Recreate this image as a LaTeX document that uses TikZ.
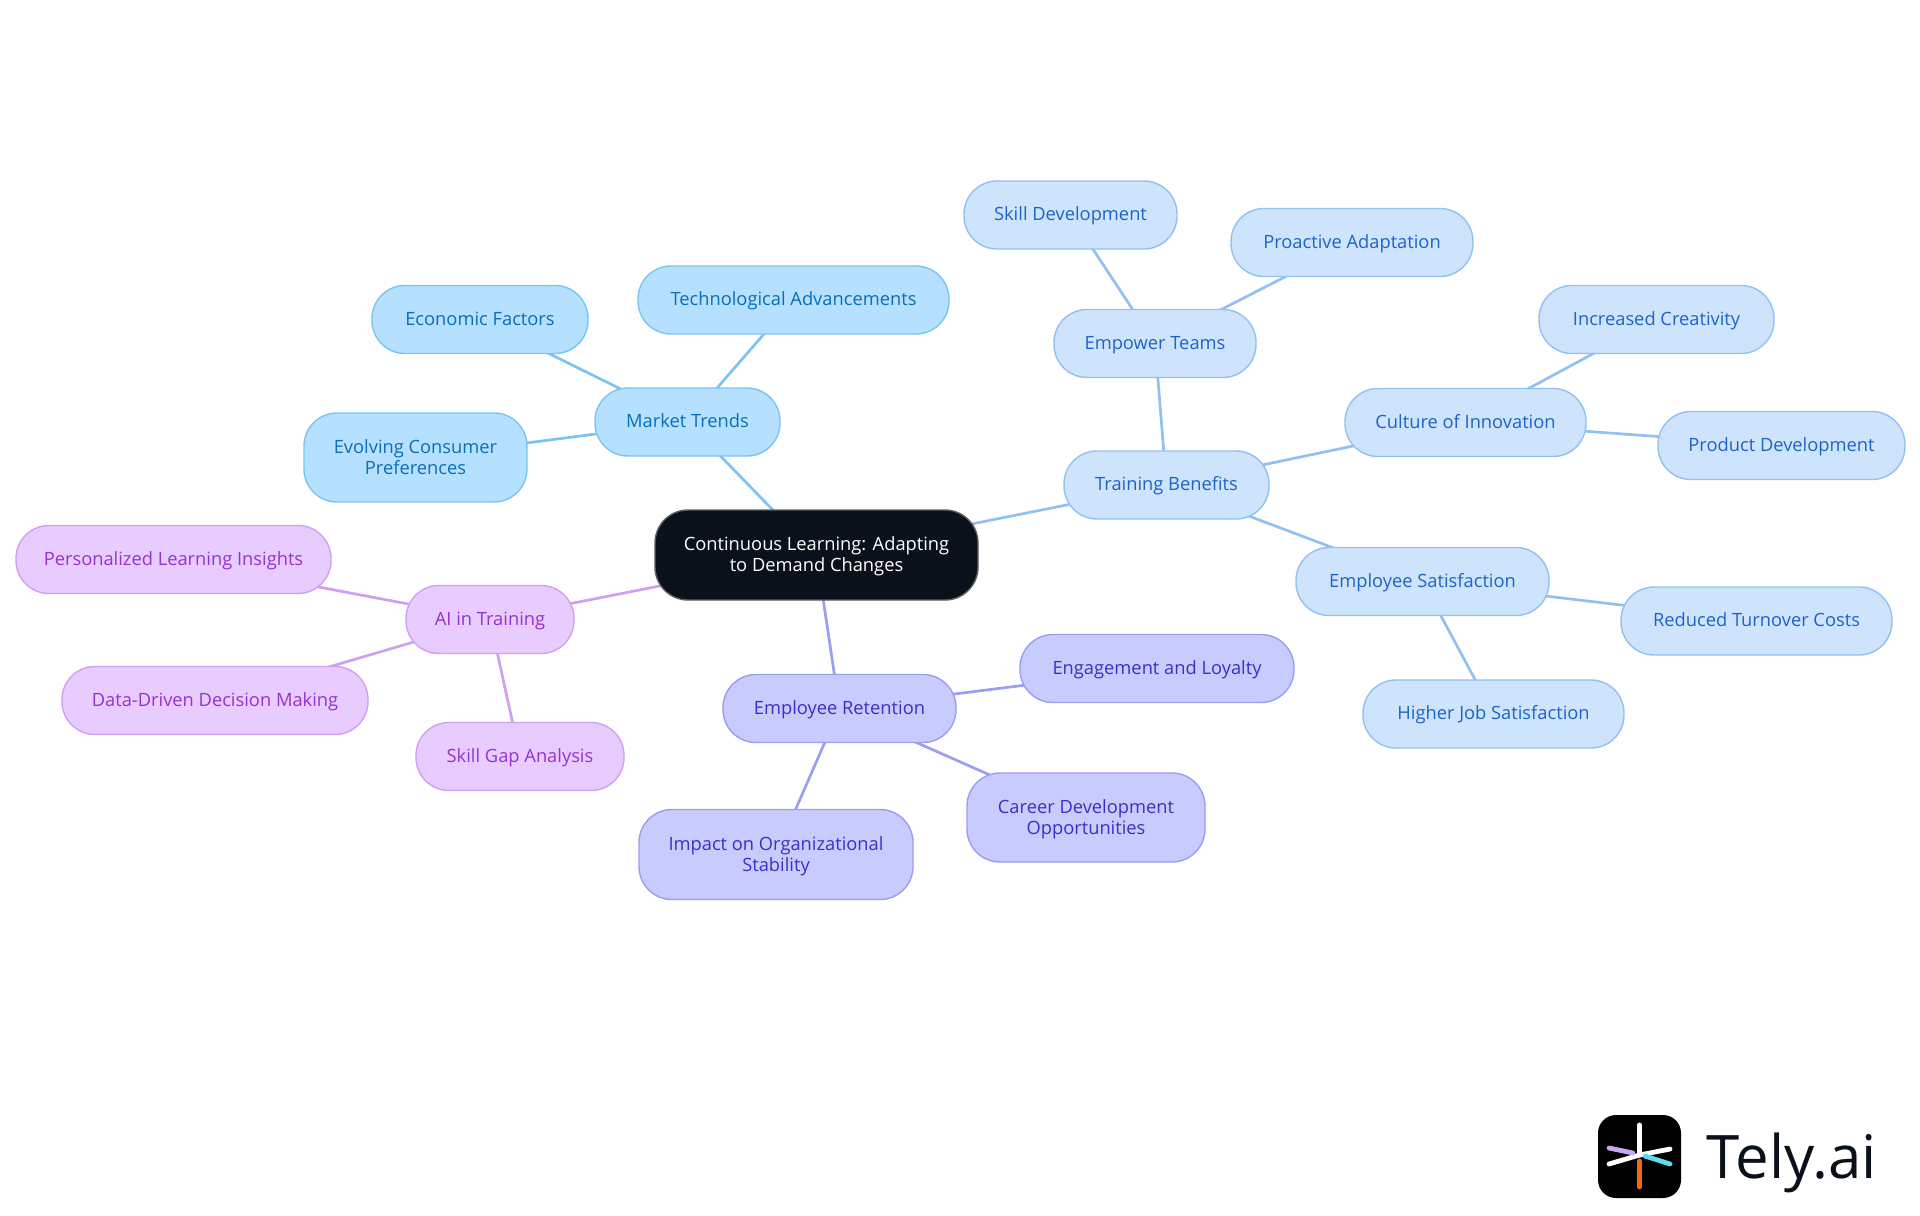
\documentclass[tikz,border=0pt]{standalone}
\usepackage{fontspec}
\setmainfont{Open Sans}
\usetikzlibrary{backgrounds}
\definecolor{skyfill}{HTML}{B5E0FF}
\definecolor{skyline}{HTML}{7CC4F0}
\definecolor{skytext}{HTML}{0A6FB8}
\definecolor{bluefill}{HTML}{CEE3FC}
\definecolor{blueline}{HTML}{93C0F2}
\definecolor{bluetext}{HTML}{1D64C8}
\definecolor{indfill}{HTML}{C8CBFD}
\definecolor{indline}{HTML}{9A9DF0}
\definecolor{indtext}{HTML}{3A30C8}
\definecolor{purfill}{HTML}{E9CCFF}
\definecolor{purline}{HTML}{CFA0F2}
\definecolor{purtext}{HTML}{9333D0}
\definecolor{rootfill}{HTML}{0B111A}
\definecolor{logolilac}{HTML}{C4A8F0}
\definecolor{logocyan}{HTML}{5CDDEE}
\definecolor{logoorange}{HTML}{EE6A0F}
\begin{document}
\begin{tikzpicture}[x=0.5pt,y=-0.5pt,
  mbox/.style={draw, line width=0.7pt, rounded corners=16.5pt, align=center, inner sep=0pt,
    font=\fontsize{9.15}{10.5}\selectfont,
    execute at begin node={\leavevmode\vrule height 8.2pt width 0pt},
    execute at end node={\vrule depth 2.5pt width 0pt}},
  tall/.style={execute at begin node={\leavevmode\vrule height 19.2pt width 0pt}},
  rootbox/.style={mbox, fill=rootfill, draw=gray!70!rootfill, text=white},
  sky/.style={mbox, fill=skyfill, draw=skyline, text=skytext},
  blu/.style={mbox, fill=bluefill, draw=blueline, text=bluetext},
  ind/.style={mbox, fill=indfill, draw=indline, text=indtext},
  pur/.style={mbox, fill=purfill, draw=purline, text=purtext},
  lnk/.style={line width=1.35pt},
  spoke/.style={line width=2.4pt, line cap=round}
]
\useasboundingbox (0,0) rectangle (1920,1215);
\node[rootbox, tall, minimum width=161.5pt, minimum height=45pt] (root) at (816.5,555) {Continuous Learning: Adapting\\to Demand Changes};
% market side
\node[sky, minimum width=92.5pt, minimum height=34pt] (market) at (687.5,422) {Market Trends};
\node[sky, minimum width=155.5pt, minimum height=34pt] (tech) at (793.5,300) {Technological Advancements};
\node[sky, minimum width=108pt, minimum height=34pt] (econ) at (480,319.5) {Economic Factors};
\node[sky, tall, minimum width=111.5pt, minimum height=44.5pt] (consumer) at (415.5,457.5) {Evolving Consumer\\Preferences};
% training side
\node[blu, minimum width=102.5pt, minimum height=34pt] (train) at (1166.5,485) {Training Benefits};
\node[blu, minimum width=101pt, minimum height=34pt] (empower) at (1155,343.5) {Empower Teams};
\node[blu, minimum width=106.5pt, minimum height=34pt] (skilldev) at (1070.5,215) {Skill Development};
\node[blu, minimum width=121pt, minimum height=34pt] (proactive) at (1352,242.5) {Proactive Adaptation};
\node[blu, minimum width=120.5pt, minimum height=34pt] (culture) at (1465.5,422.5) {Culture of Innovation};
\node[blu, minimum width=117.5pt, minimum height=34pt] (creative) at (1656.5,319.5) {Increased Creativity};
\node[blu, minimum width=123.5pt, minimum height=34pt] (product) at (1781.5,445.5) {Product Development};
\node[blu, minimum width=126.5pt, minimum height=34pt] (satisf) at (1422.5,581.5) {Employee Satisfaction};
\node[blu, minimum width=135.5pt, minimum height=34pt] (turnover) at (1756.5,621) {Reduced Turnover Costs};
\node[blu, minimum width=130.5pt, minimum height=34pt] (jobsat) at (1493.5,714) {Higher Job Satisfaction};
% retention side
\node[ind, minimum width=116.5pt, minimum height=34pt] (retain) at (839.5,708.5) {Employee Retention};
\node[ind, minimum width=137pt, minimum height=34pt] (loyal) at (1157,668.5) {Engagement and Loyalty};
\node[ind, tall, minimum width=119pt, minimum height=44.5pt] (career) at (1086,817.5) {Career Development\\Opportunities};
\node[ind, tall, minimum width=137pt, minimum height=45pt] (impact) at (776,854.5) {Impact on Organizational\\Stability};
% ai side
\node[pur, minimum width=84pt, minimum height=34pt] (aitrain) at (490,619.5) {AI in Training};
\node[pur, minimum width=157.5pt, minimum height=34pt] (insight) at (173.5,559.5) {Personalized Learning Insights};
\node[pur, minimum width=153pt, minimum height=34pt] (datadec) at (215,700.5) {Data-Driven Decision Making};
\node[pur, minimum width=104pt, minimum height=34pt] (gap) at (520,756.5) {Skill Gap Analysis};
\begin{scope}[on background layer]
\foreach \a/\b in {root/market,market/tech,market/econ,market/consumer}
  \draw[lnk, skyline] (\a.center) -- (\b.center);
\foreach \a/\b in {root/train,train/empower,empower/skilldev,empower/proactive,train/culture,culture/creative,culture/product,train/satisf,satisf/turnover,satisf/jobsat}
  \draw[lnk, blueline] (\a.center) -- (\b.center);
\foreach \a/\b in {root/retain,retain/loyal,retain/career,retain/impact}
  \draw[lnk, indline] (\a.center) -- (\b.center);
\foreach \a/\b in {root/aitrain,aitrain/insight,aitrain/datadec,aitrain/gap}
  \draw[lnk, purline] (\a.center) -- (\b.center);
\end{scope}
% logo
\node[fill=black, rounded corners=9pt, minimum size=41.5pt, inner sep=0pt] (badge) at (1639.5,1156.5) {};
\coordinate (hub) at (1639.5,1155);
\draw[spoke, white] (hub) -- (1639.5,1125);
\draw[spoke, white] (hub) -- (1670,1149);
\draw[spoke, white] (hub) -- (1609,1164);
\draw[spoke, logoorange] (1639.5,1161) -- (1639.5,1187);
\draw[spoke, logolilac] (1633,1153) -- (1609,1148);
\draw[spoke, logocyan] (1645,1156) -- (1670,1164);
\node[anchor=base west, inner sep=0pt, text=rootfill, font=\fontsize{30}{30}\selectfont] (brand) at (1706,1178) {Tely.ai};
\end{tikzpicture}
\end{document}
